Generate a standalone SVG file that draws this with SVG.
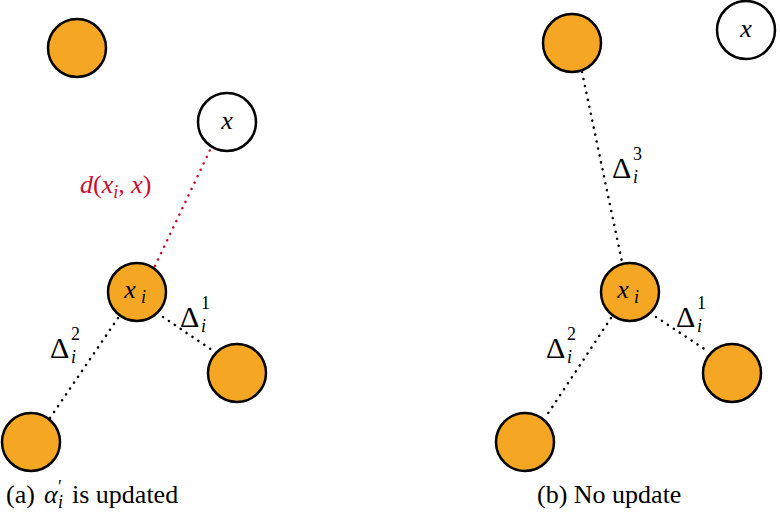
<svg xmlns="http://www.w3.org/2000/svg" width="780" height="523" viewBox="0 0 780 523">
<style>
.n{fill:#f5a623;stroke:#000;stroke-width:2.5}
.w{fill:#fff;stroke:#000;stroke-width:2.5}
.d{stroke:#000;stroke-width:2.5;stroke-dasharray:0.1 7;stroke-linecap:round;fill:none}
.r{stroke:#c8102e}
text{font-family:"Liberation Serif","Times New Roman",serif;font-size:26px}
.m{font-style:italic}
.s{font-size:18px}
.D{font-size:30px}
</style>
<rect width="780" height="523" fill="#fff"/>
<g id="connectors">
<line class="d r" x1="155" y1="266" x2="210" y2="150"/>
<line class="d" x1="163" y1="317" x2="212" y2="350"/>
<line class="d" x1="118" y1="318" x2="50" y2="418"/>
<line class="d" x1="582" y1="72" x2="622" y2="262"/>
<line class="d" x1="656" y1="317" x2="706" y2="350"/>
<line class="d" x1="611" y1="318" x2="545" y2="418"/>
</g>
<g id="a_top"><circle class="n" cx="77" cy="48" r="29"/></g>
<g id="a_x"><circle class="w" cx="227" cy="122" r="29"/><text class="m" x="227" y="129" text-anchor="middle">x</text></g>
<g id="a_xi"><circle class="n" cx="137" cy="292" r="29"/><text class="m" x="130" y="298" text-anchor="middle">x</text><text class="m s" x="141" y="303">i</text></g>
<g id="a_r"><circle class="n" cx="237" cy="373" r="29"/></g>
<g id="a_bl"><circle class="n" cx="31" cy="442" r="29"/></g>
<g id="b_top"><circle class="n" cx="572" cy="43" r="29"/></g>
<g id="b_x"><circle class="w" cx="746" cy="30" r="29"/><text class="m" x="746" y="37" text-anchor="middle">x</text></g>
<g id="b_xi"><circle class="n" cx="630" cy="292" r="29"/><text class="m" x="623" y="298" text-anchor="middle">x</text><text class="m s" x="634" y="303">i</text></g>
<g id="b_r"><circle class="n" cx="732" cy="373" r="29"/></g>
<g id="b_bl"><circle class="n" cx="525" cy="442" r="29"/></g>
<g id="labels">
<text x="80" y="193" fill="#c8102e"><tspan class="m">d</tspan>(<tspan class="m">x</tspan><tspan class="m s" dy="5">i</tspan><tspan dy="-5">, </tspan><tspan class="m">x</tspan>)</text>
<text class="D" x="180" y="327">Δ</text><text class="s" x="201" y="309">1</text><text class="m s" x="201" y="332">i</text>
<text class="D" x="50" y="358">Δ</text><text class="s" x="71" y="340">2</text><text class="m s" x="71" y="363">i</text>
<text class="D" x="676" y="327">Δ</text><text class="s" x="697" y="309">1</text><text class="m s" x="697" y="332">i</text>
<text class="D" x="546" y="358">Δ</text><text class="s" x="567" y="340">2</text><text class="m s" x="567" y="363">i</text>
<text class="D" x="612" y="178">Δ</text><text class="s" x="633" y="160">3</text><text class="m s" x="633" y="183">i</text>
<text x="6" y="503">(a)</text>
<text class="m" x="44" y="503">α</text><text class="s" x="58" y="493">′</text><text class="m s" x="58" y="508">i</text>
<text x="72" y="503">is updated</text>
<text x="537" y="503">(b)  No update</text>
</g>
</svg>
